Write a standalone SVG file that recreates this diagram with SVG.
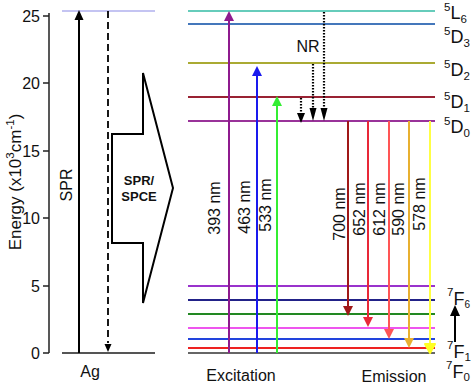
<svg xmlns="http://www.w3.org/2000/svg" width="474" height="384" viewBox="0 0 474 384">
<style>
text{font-family:"Liberation Sans",Arial,sans-serif;fill:#111}
.t{font-size:16px}
.tick{font-size:16px;text-anchor:end}
.lv{stroke-width:2;fill:none}
.ar{stroke-width:2;fill:none}
.nr{stroke:#000;stroke-width:2.2;stroke-dasharray:1.6 1.4;fill:none}
.lab{font-size:18px}
.sm{font-size:11.5px}
.F{font-size:18px}
.bold{font-size:13px;font-weight:bold;text-anchor:middle}
</style>
<rect width="474" height="384" fill="#fff"/>

<!-- Left panel: axis -->
<g id="axis">
  <path d="M49 13V353M43 16H49M43 83H49M43 151H49M43 218H49M43 286H49M43 353H49" stroke="#222" stroke-width="1.5" fill="none"/>
  <text class="tick" x="40" y="22">25</text>
  <text class="tick" x="40" y="89">20</text>
  <text class="tick" x="40" y="157">15</text>
  <text class="tick" x="40" y="224">10</text>
  <text class="tick" x="40" y="292">5</text>
  <text class="tick" x="40" y="359">0</text>
  <text transform="translate(21 182) rotate(-90)" text-anchor="middle" style="font-size:17px">Energy (x10<tspan class="sm" dy="-7">3</tspan><tspan dy="7">cm</tspan><tspan class="sm" dy="-7">-1</tspan><tspan dy="7">)</tspan></text>
</g>

<g id="ag">
  <line x1="62" y1="11" x2="155" y2="11" stroke="#b0b0ee" stroke-width="1.5"/>
  <line x1="62" y1="353" x2="155" y2="353" stroke="#555" stroke-width="2"/>
  <text class="t" x="90" y="377" text-anchor="middle">Ag</text>
</g>

<g id="spr-arrows">
  <line x1="79" y1="353" x2="79" y2="20" stroke="#000" stroke-width="2"/>
  <polygon points="79,10 74.5,20 83.5,20" fill="#000"/>
  <line x1="108" y1="11" x2="108" y2="343" stroke="#000" stroke-width="1.8" stroke-dasharray="7 4"/>
  <polygon points="108,352 104.5,344 111.5,344" fill="#000"/>
  <text class="t" transform="translate(72 185) rotate(-90)" text-anchor="middle">SPR</text>
</g>

<g id="big-arrow">
  <polygon points="112,134 143,134 143,73 173,188 143,303 143,243 112,243" fill="#fff" stroke="#000" stroke-width="2" stroke-linejoin="miter"/>
  <text class="bold" x="139" y="185">SPR/</text>
  <text class="bold" x="139" y="201">SPCE</text>
</g>

<!-- Right panel: levels -->
<g id="level-5L6"><line class="lv" x1="188" y1="11" x2="435" y2="11" stroke="#66ccbb"/>
  <text class="lab" x="444" y="19"><tspan class="sm" dy="-8">5</tspan><tspan dy="8">L</tspan><tspan class="sm" dy="4">6</tspan></text></g>
<g id="level-5D3"><line class="lv" x1="188" y1="24" x2="435" y2="24" stroke="#4477bb"/>
  <text class="lab" x="444" y="43"><tspan class="sm" dy="-8">5</tspan><tspan dy="8">D</tspan><tspan class="sm" dy="4">3</tspan></text></g>
<g id="level-5D2"><line class="lv" x1="188" y1="63" x2="435" y2="63" stroke="#aaaa33"/>
  <text class="lab" x="444" y="76"><tspan class="sm" dy="-8">5</tspan><tspan dy="8">D</tspan><tspan class="sm" dy="4">2</tspan></text></g>
<g id="level-5D1"><line class="lv" x1="188" y1="97" x2="435" y2="97" stroke="#992233"/>
  <text class="lab" x="444" y="108"><tspan class="sm" dy="-8">5</tspan><tspan dy="8">D</tspan><tspan class="sm" dy="4">1</tspan></text></g>
<g id="level-5D0"><line class="lv" x1="188" y1="121" x2="435" y2="121" stroke="#993399"/>
  <text class="lab" x="444" y="133"><tspan class="sm" dy="-8">5</tspan><tspan dy="8">D</tspan><tspan class="sm" dy="4">0</tspan></text></g>

<g id="level-7F6"><line class="lv" x1="188" y1="286" x2="435" y2="286" stroke="#9933cc"/>
  <text class="F" x="447" y="305"><tspan class="sm" dy="-9">7</tspan><tspan dy="9">F</tspan><tspan style="font-size:10px" dy="3">6</tspan></text></g>
<g id="level-7F5"><line class="lv" x1="188" y1="300" x2="435" y2="300" stroke="#222288"/></g>
<g id="level-7F4"><line class="lv" x1="188" y1="314" x2="435" y2="314" stroke="#228822"/></g>
<g id="level-7F3"><line class="lv" x1="188" y1="328" x2="435" y2="328" stroke="#ee55ee"/></g>
<g id="level-7F2"><line class="lv" x1="188" y1="339" x2="435" y2="339" stroke="#2244dd"/></g>
<g id="level-7F1"><line class="lv" x1="188" y1="348" x2="435" y2="348" stroke="#ee2222"/>
  <text class="F" x="447" y="358"><tspan class="sm" dy="-9">7</tspan><tspan dy="9">F</tspan><tspan class="sm" dy="3">1</tspan></text></g>
<g id="level-7F0"><line class="lv" x1="188" y1="353" x2="435" y2="353" stroke="#666"/>
  <text class="F" x="446" y="378"><tspan class="sm" dy="-9">7</tspan><tspan dy="9">F</tspan><tspan class="sm" dy="3">0</tspan></text></g>

<!-- Connectors -->
<g id="connectors">
  <!-- excitation -->
  <line class="ar" x1="229" y1="353" x2="229" y2="20" stroke="#8e1a8e"/>
  <polygon points="229,11 224,21 234,21" fill="#8e1a8e"/>
  <line class="ar" x1="257" y1="353" x2="257" y2="75" stroke="#1a1aee"/>
  <polygon points="257,66 252,76 262,76" fill="#1a1aee"/>
  <line class="ar" x1="277" y1="353" x2="277" y2="105" stroke="#33ee33"/>
  <polygon points="277,96 272,106 282,106" fill="#33ee33"/>
  <!-- non-radiative -->
  <line class="nr" x1="324" y1="12" x2="324" y2="108"/>
  <polygon points="320.5,108 327.5,108 324,121" fill="#000"/>
  <line class="nr" x1="313" y1="64" x2="313" y2="108"/>
  <polygon points="309.5,108 316.5,108 313,121" fill="#000"/>
  <line class="nr" x1="301" y1="98" x2="301" y2="113"/>
  <polygon points="297,113 305,113 301,123" fill="#000"/>
  <!-- emission -->
  <line class="ar" x1="348" y1="121" x2="348" y2="307" stroke="#a01818"/>
  <polygon points="343,306 353,306 348,316" fill="#a01818"/>
  <line class="ar" x1="368" y1="121" x2="368" y2="318" stroke="#e82838"/>
  <polygon points="363,317 373,317 368,327" fill="#e82838"/>
  <line class="ar" x1="389" y1="121" x2="389" y2="330" stroke="#ff5555"/>
  <polygon points="384,329 394,329 389,339" fill="#ff5555"/>
  <line class="ar" x1="409" y1="121" x2="409" y2="339" stroke="#e8b030"/>
  <polygon points="404,338 414,338 409,348" fill="#e8b030"/>
  <line class="ar" x1="430" y1="121" x2="430" y2="353" stroke="#ffff44"/>
  <polygon points="425,344 435,344 430,353" fill="#ffff22" stroke="#ffff22" stroke-width="2" stroke-linejoin="round"/>
  <!-- 7F ladder -->
  <line x1="455" y1="342" x2="455" y2="315" stroke="#000" stroke-width="2"/>
  <polygon points="455,305 450,316 460,316" fill="#000"/>
</g>

<g id="labels">
  <text class="t" transform="translate(220 208) rotate(-90)" text-anchor="middle">393 nm</text>
  <text class="t" transform="translate(250 207) rotate(-90)" text-anchor="middle">463 nm</text>
  <text class="t" transform="translate(271 205) rotate(-90)" text-anchor="middle">533 nm</text>
  <text class="t" transform="translate(345 214) rotate(-90)" text-anchor="middle">700 nm</text>
  <text class="t" transform="translate(365 209) rotate(-90)" text-anchor="middle">652 nm</text>
  <text class="t" transform="translate(385 209) rotate(-90)" text-anchor="middle">612 nm</text>
  <text class="t" transform="translate(404 209) rotate(-90)" text-anchor="middle">590 nm</text>
  <text class="t" transform="translate(425 204) rotate(-90)" text-anchor="middle">578 nm</text>
  <text class="t" x="308" y="52" text-anchor="middle">NR</text>
  <text class="t" x="241" y="381" text-anchor="middle">Excitation</text>
  <text class="t" x="394" y="382" text-anchor="middle">Emission</text>
</g>
</svg>
